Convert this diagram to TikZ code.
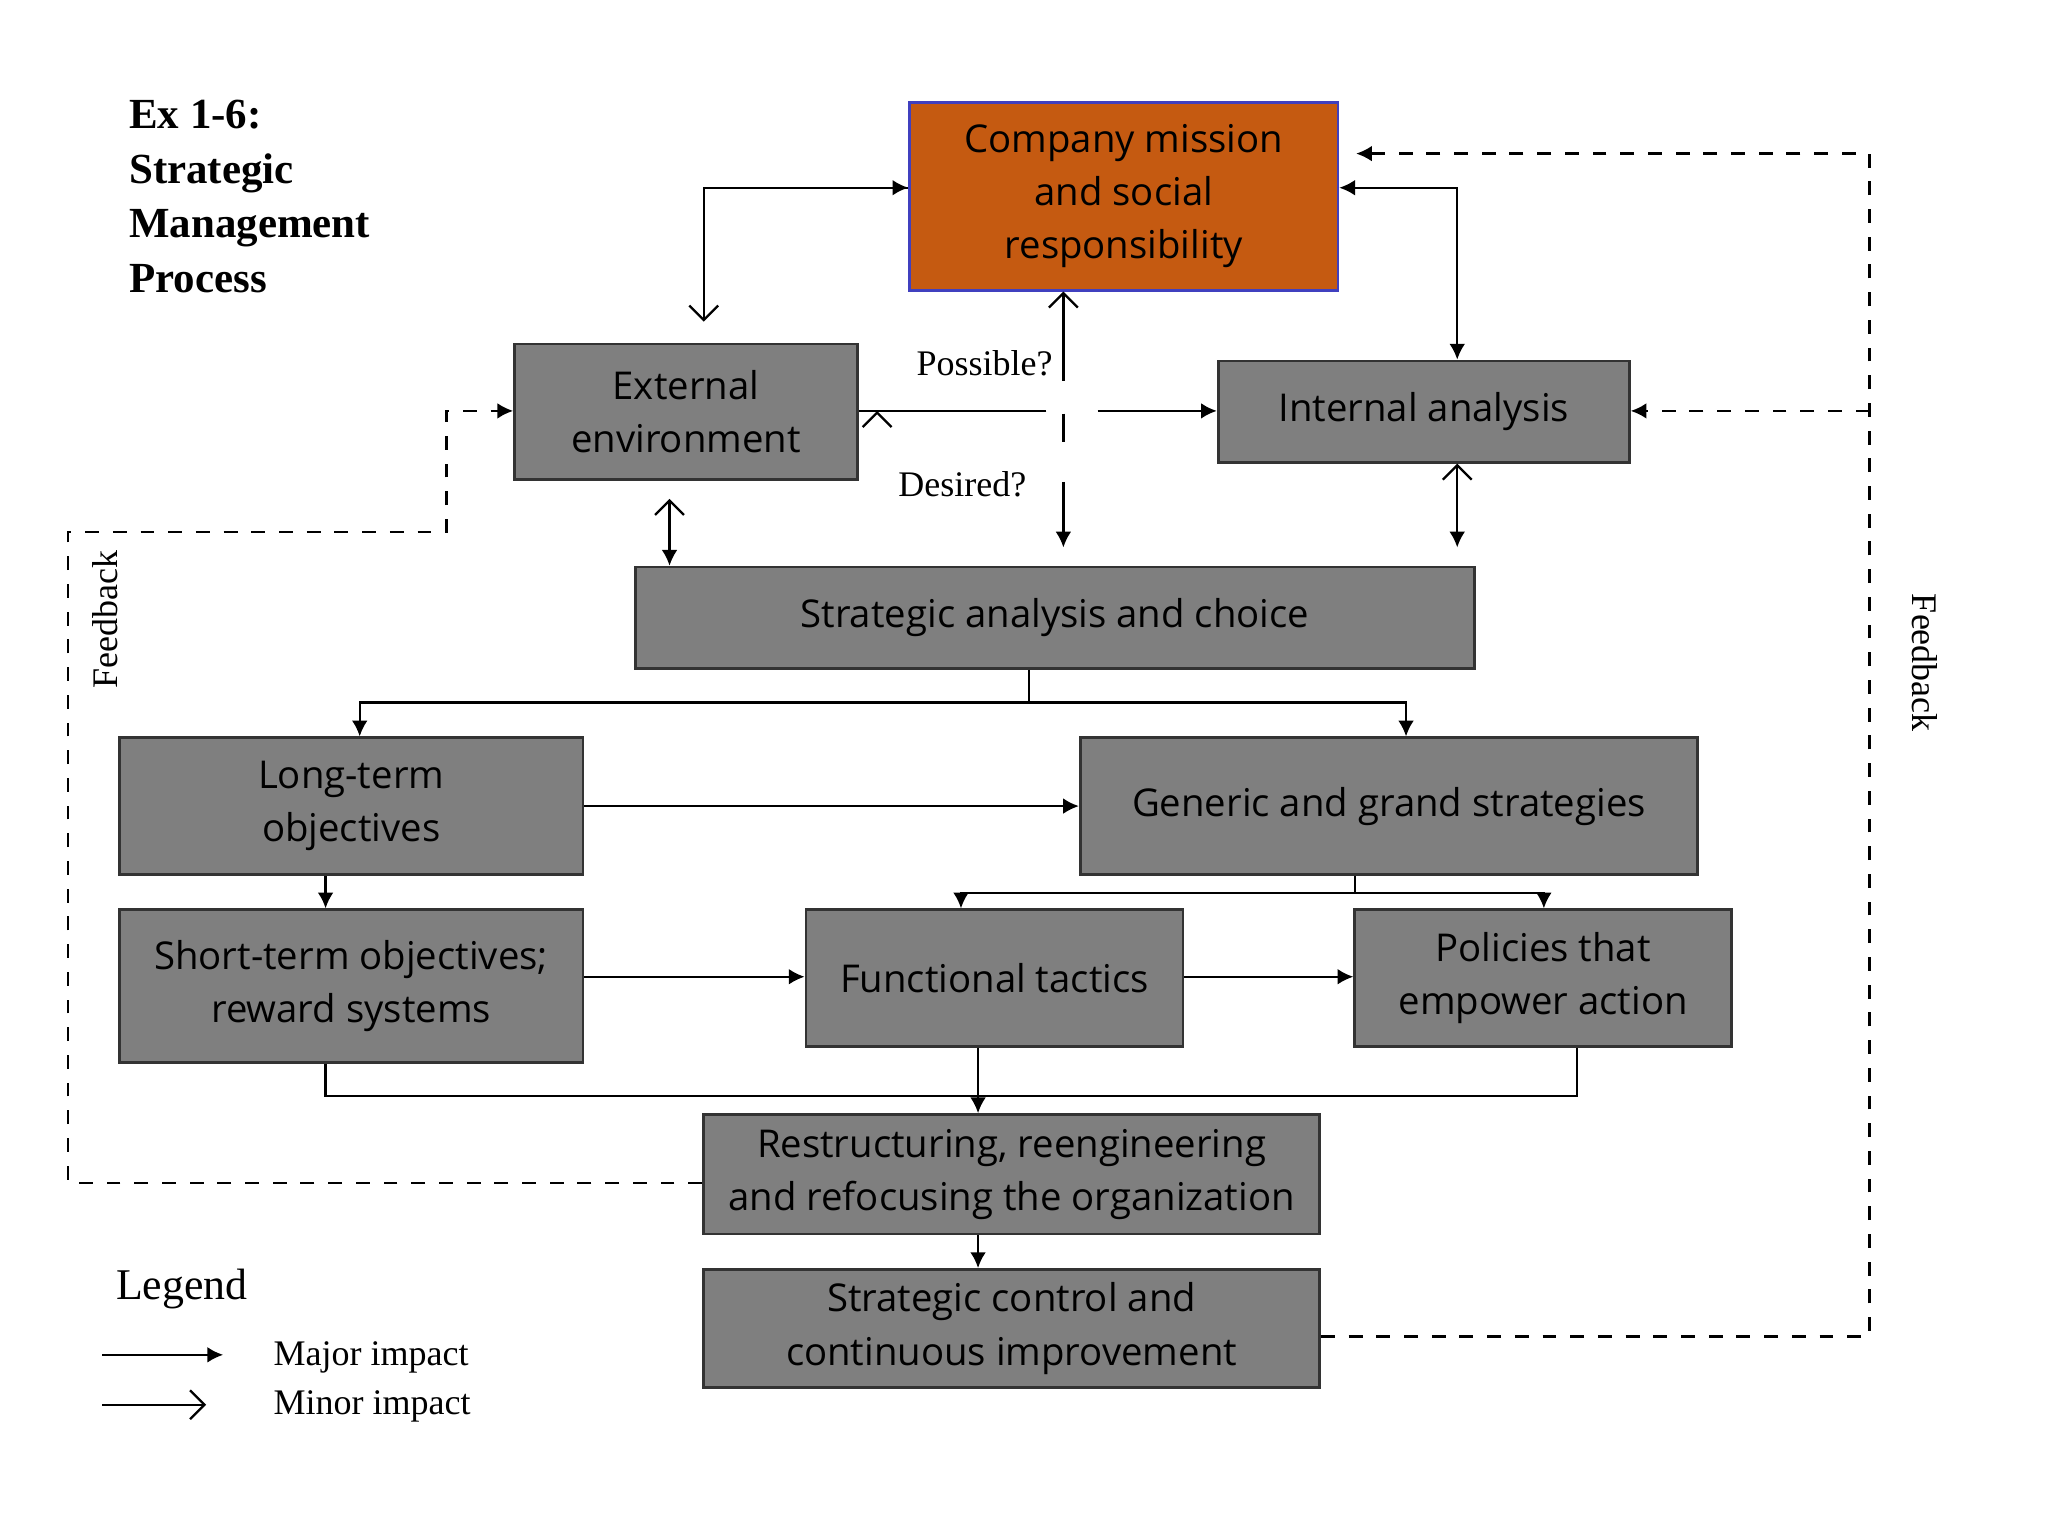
\documentclass[tikz,border=0pt]{standalone}
\usepackage{fontspec}
\setmainfont{Liberation Serif}
\newfontfamily\boxfont{Open Sans}
\usetikzlibrary{arrows.meta,positioning}
\definecolor{boxgray}{HTML}{7F7F7F}
\definecolor{mission}{HTML}{C55A11}
\tikzset{
  box/.style={draw=black!80, fill=boxgray, line width=0.6pt, align=center,
    font=\boxfont\fontsize{8.3}{11.5}\selectfont, inner sep=0pt},
  major/.style={-{Latex[length=1.2mm,width=1.2mm]}, line width=0.5pt},
  minor/.style={-{Straight Barb[length=1.1mm,width=2.2mm]}, line width=0.5pt},
  fb/.style={dashed, line width=0.5pt},
  lbl/.style={font=\fontsize{7.8}{9}\selectfont}
}
\begin{document}
\begin{tikzpicture}[x=0.01cm,y=-0.01cm]
  \useasboundingbox (0,0) rectangle (1560,1170);
  % title
  \node[anchor=north west, align=left, font=\bfseries\fontsize{9.3}{11.8}\selectfont]
    (title) at (86,64) {Ex 1-6:\\Strategic\\Management\\Process};
  % boxes
  \node[box, fill=mission, draw=blue!50!gray, minimum width=326\pgflinewidth] (mis)
    at (856,149.5) [minimum width=3.26cm, minimum height=1.43cm] {Company mission\\and social\\responsibility};
  \node[box, minimum width=2.61cm, minimum height=1.03cm] (ext) at (522.5,313.5) {External\\environment};
  \node[box, minimum width=3.13cm, minimum height=0.77cm] (int) at (1084.5,313.5) {Internal analysis};
  \node[box, minimum width=6.39cm, minimum height=0.77cm] (sac) at (803.5,470.5) {Strategic analysis and choice};
  \node[box, minimum width=3.53cm, minimum height=1.04cm] (lto) at (267.5,614) {Long-term\\objectives};
  \node[box, minimum width=4.70cm, minimum height=1.04cm] (ggs) at (1058,614) {Generic and grand strategies};
  \node[box, minimum width=3.53cm, minimum height=1.16cm] (sto) at (267.5,751) {Short-term objectives;\\reward systems};
  \node[box, minimum width=2.87cm, minimum height=1.04cm] (ft) at (757.5,745) {Functional tactics};
  \node[box, minimum width=2.87cm, minimum height=1.04cm] (pol) at (1175.5,745) {Policies that\\empower action};
  \node[box, minimum width=4.69cm, minimum height=0.91cm] (rr) at (770.5,894.5) {Restructuring, reengineering\\and refocusing the organization};
  \node[box, minimum width=4.69cm, minimum height=0.90cm] (sc) at (770.5,1012) {Strategic control and\\continuous improvement};
  % mission links
  \coordinate (m1) at (536,245);
  \draw[minor] (mis.west |- 0,143) -| (m1);
  \draw[major] (m1 |- 0,160) |- (mis.west |- 0,143);
  \draw[major] (1110,160) |- (mis.east |- 0,143);
  \draw[major] (1110,150) -- (int.north -| 1110,0);
  % possible / desired
  \node[lbl] (pos) at (750,277) {Possible?};
  \node[lbl] (des) at (733,369) {Desired?};
  \coordinate (c) at (810,313);
  \draw[minor] (810,290) -- (mis.south -| 810,0);
  \draw[line width=0.5pt] (810,315) -- (810,337);
  \draw[major] (810,367) -- (810,417);
  \draw[minor] (797,313) -- (ext.east |- 0,313) ++(14,0);
  \draw[major] (836,313) -- (int.west |- 0,313);
  % to strategic analysis
  \draw[minor] (510,400) -- (510,380);
  \draw[major] (510,395) -- (sac.north -| 510,0);
  \draw[minor] (1110,390) -- (int.south -| 1110,0);
  \draw[major] (1110,385) -- (1110,417);
  % downward flow
  \draw[line width=0.5pt] (sac.south -| 784,0) -- (784,535);
  \draw[major] (784,535) -| (lto.north -| 274,0);
  \draw[major] (784,535) -| (ggs.north -| 1071,0);
  \draw[major] (lto.east) -- (ggs.west);
  \draw[major] (lto.south -| 248,0) -- (sto.north -| 248,0);
  \draw[line width=0.5pt] (ggs.south -| 1032,0) -- (1032,680);
  \draw[major] (1032,680) -| (ft.north -| 732,0);
  \draw[major] (1032,680) -| (pol.north -| 1176,0);
  \draw[major] (sto.east |- 0,744) -- (ft.west |- 0,744);
  \draw[major] (ft.east |- 0,744) -- (pol.west |- 0,744);
  \draw[line width=0.5pt] (sto.south -| 248,0) |- (745,835) -| (pol.south -| 1201,0);
  \draw[major] (ft.south -| 745,0) -- (rr.north -| 745,0);
  \draw[major] (rr.south -| 745,0) -- (sc.north -| 745,0);
  % feedback
  \draw[fb, -{Latex[length=1.2mm,width=1.2mm]}] (rr.west |- 0,901) -- (52,901) -- (52,405)
    -- (340,405) -- (340,313) -- (ext.west |- 0,313);
  \draw[fb, -{Latex[length=1.2mm,width=1.2mm]}] (sc.east |- 0,1018) -- (1424,1018) -- (1424,117) -- (1033,117);
  \draw[fb, -{Latex[length=1.2mm,width=1.2mm]}] (1424,313) -- (int.east |- 0,313);
  \node[lbl, rotate=90] (fbl) at (80,472) {Feedback};
  \node[lbl, rotate=-90] (fbr) at (1466,505) {Feedback};
  % legend
  \node[anchor=west, font=\fontsize{9.5}{11}\selectfont] (leg) at (76,982) {Legend};
  \coordinate (la) at (78,1032);
  \coordinate (lb) at (78,1070);
  \draw[major] (la) -- ++(92,0);
  \draw[minor] (lb) -- ++(79,0);
  \node[lbl, anchor=west] (lmaj) at (196,1034) {Major impact};
  \node[lbl, anchor=west] (lmin) at (196,1071) {Minor impact};
\end{tikzpicture}
\end{document}
